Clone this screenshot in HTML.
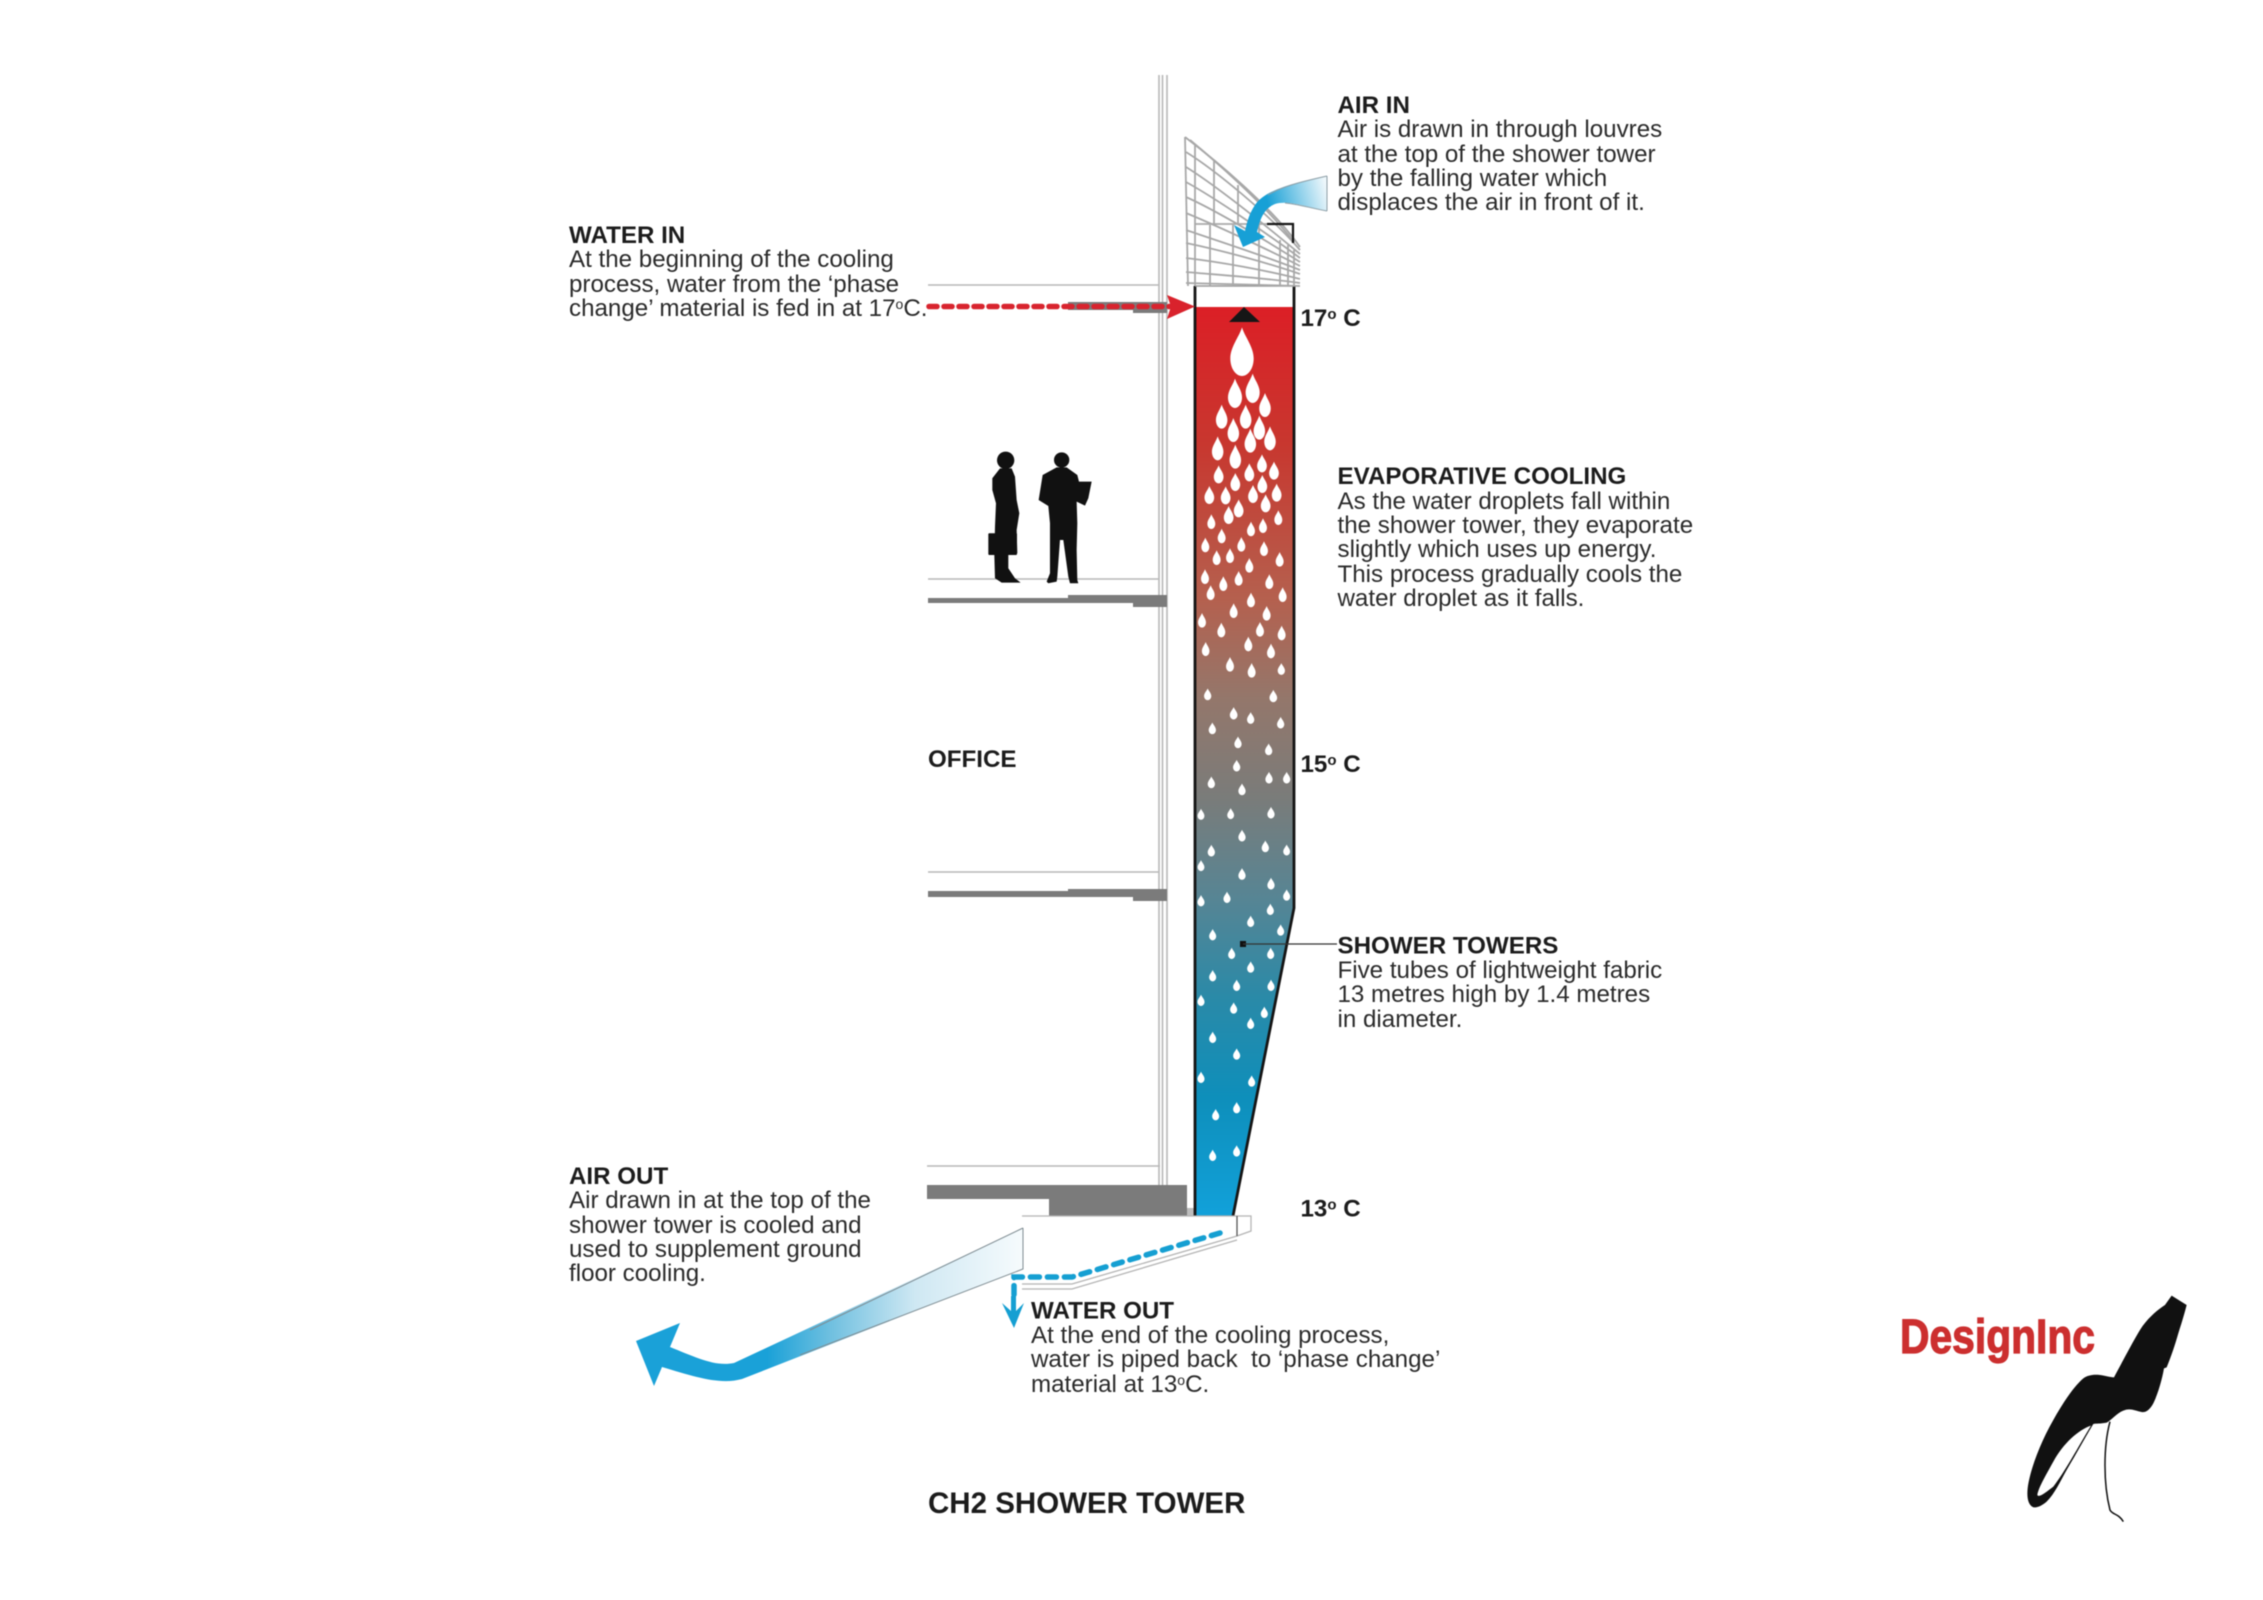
<!DOCTYPE html>
<html>
<head>
<meta charset="utf-8">
<title>CH2 Shower Tower</title>
<style>
html,body{margin:0;padding:0;background:#fff}
svg{display:block;filter:blur(.5px)}
text{font-family:"Liberation Sans",Arial,sans-serif;font-size:24.15px;fill:#2b2b2b}
.b{font-weight:bold;fill:#1c1c1c}
</style>
</head>
<body>
<svg xmlns="http://www.w3.org/2000/svg" width="2263" height="1600" viewBox="0 0 2263 1600">
<defs>
<linearGradient id="tower" gradientUnits="userSpaceOnUse" x1="0" y1="307" x2="0" y2="1216">
<stop offset="0" stop-color="#dc1f26"/>
<stop offset=".15" stop-color="#c8372f"/>
<stop offset=".32" stop-color="#b5604e"/>
<stop offset=".43" stop-color="#94776b"/>
<stop offset=".54" stop-color="#7a7c7a"/>
<stop offset=".65" stop-color="#578594"/>
<stop offset=".76" stop-color="#2a8aa8"/>
<stop offset=".87" stop-color="#0e8fbb"/>
<stop offset="1" stop-color="#12a1da"/>
</linearGradient>
<linearGradient id="airout" gradientUnits="userSpaceOnUse" x1="1023" y1="0" x2="767" y2="0">
<stop offset="0" stop-color="#f6fbfd"/>
<stop offset=".42" stop-color="#cfe8f3"/>
<stop offset=".75" stop-color="#70c0e0"/>
<stop offset="1" stop-color="#1aa1d8"/>
</linearGradient>
<linearGradient id="airin" gradientUnits="userSpaceOnUse" x1="1327" y1="190" x2="1268" y2="205">
<stop offset="0" stop-color="#eef7fb"/>
<stop offset="1" stop-color="#17a0d6"/>
</linearGradient>
<path id="d" fill="#fff" d="M0,-.5C.06,-.3 .24,-.1 .24,.14C.24,.34 .13,.5 0,.5C-.13,.5 -.24,.34 -.24,.14C-.24,-.1 -.06,-.3 0,-.5Z"/>
<path id="m" fill="#fff" d="M0,-.5C.07,-.3 .27,-.1 .27,.14C.27,.34 .15,.5 0,.5C-.15,.5 -.27,.34 -.27,.14C-.27,-.1 -.07,-.3 0,-.5Z"/>
<path id="s" fill="#fff" d="M0,-.5C.08,-.3 .31,-.1 .31,.14C.31,.34 .17,.5 0,.5C-.17,.5 -.31,.34 -.31,.14C-.31,-.1 -.08,-.3 0,-.5Z"/>
</defs>

<rect width="2263" height="1600" fill="#fff"/>

<!-- wall lines -->
<g stroke="#b8b8b8" stroke-width="1.6" fill="none">
<path d="M1159,75V1185M1162.5,75V1185M1167,75V1185"/>
<path d="M928,285H1159M928,579H1159M928,872H1159M927,1166H1160"/>
</g>

<!-- floor slabs -->
<g fill="#7b7b7b">
<path d="M1068,302H1167V313H1133V310H1068Z"/>
<path d="M928,598H1068V595H1167V607H1133V603H928Z"/>
<path d="M928,891H1068V889H1167V901H1133V897H928Z"/>
<path d="M927,1185H1187V1216H1049V1199H927Z"/>
</g>
<rect x="1187" y="1208" width="8" height="8" fill="#bdbdbd"/>

<!-- tower -->
<path d="M1195,307H1294V908L1233,1216H1195Z" fill="url(#tower)"/>
<path d="M1195,286V1216M1294,286V908L1233,1216" fill="none" stroke="#151515" stroke-width="2.8"/>
<path d="M1195,286H1294" stroke="#999" stroke-width="1.5"/>
<path d="M1244,307L1229,322H1260Z" fill="#161616"/>

<!-- droplets -->
<g transform="translate(1180,300) scale(.3333)">
<use href="#d" transform="translate(186,155) scale(146)"/>
<use href="#d" transform="translate(165,280) scale(88)"/>
<use href="#d" transform="translate(218,265) scale(88)"/>
<use href="#d" transform="translate(255,315) scale(72)"/>
<use href="#d" transform="translate(125,350) scale(72)"/>
<use href="#d" transform="translate(197,350) scale(72)"/>
<use href="#d" transform="translate(160,390) scale(72)"/>
<use href="#d" transform="translate(238,383) scale(72)"/>
<use href="#d" transform="translate(270,415) scale(72)"/>
<use href="#d" transform="translate(211,422) scale(72)"/>
<use href="#d" transform="translate(113,445) scale(72)"/>
<use href="#d" transform="translate(166,470) scale(72)"/>
<use href="#m" transform="translate(116,523) scale(54)"/>
<use href="#m" transform="translate(208,517) scale(54)"/>
<use href="#m" transform="translate(246,490) scale(54)"/>
<use href="#m" transform="translate(282,512) scale(54)"/>
<use href="#m" transform="translate(166,546) scale(54)"/>
<use href="#m" transform="translate(247,552) scale(54)"/>
<use href="#m" transform="translate(88,585) scale(54)"/>
<use href="#m" transform="translate(137,586) scale(54)"/>
<use href="#m" transform="translate(219,582) scale(54)"/>
<use href="#m" transform="translate(290,578) scale(54)"/>
<use href="#m" transform="translate(257,610) scale(54)"/>
<use href="#m" transform="translate(176,625) scale(54)"/>
<use href="#m" transform="translate(146,645) scale(54)"/>
<use href="#m" transform="translate(94,665) scale(44)"/>
<use href="#m" transform="translate(213,687) scale(44)"/>
<use href="#m" transform="translate(249,677) scale(44)"/>
<use href="#m" transform="translate(295,653) scale(44)"/>
<use href="#m" transform="translate(125,708) scale(44)"/>
<use href="#m" transform="translate(184,733) scale(44)"/>
<use href="#m" transform="translate(252,746) scale(44)"/>
<use href="#m" transform="translate(76,735) scale(44)"/>
<use href="#m" transform="translate(110,773) scale(44)"/>
<use href="#m" transform="translate(150,767) scale(44)"/>
<use href="#m" transform="translate(299,778) scale(44)"/>
<use href="#m" transform="translate(208,796) scale(44)"/>
<use href="#m" transform="translate(75,830) scale(44)"/>
<use href="#m" transform="translate(176,835) scale(44)"/>
<use href="#m" transform="translate(130,851) scale(44)"/>
<use href="#m" transform="translate(268,845) scale(44)"/>
<use href="#m" transform="translate(92,878) scale(44)"/>
<use href="#m" transform="translate(308,884) scale(44)"/>
<use href="#m" transform="translate(213,900) scale(44)"/>
<use href="#m" transform="translate(161,932) scale(44)"/>
<use href="#m" transform="translate(66,961) scale(44)"/>
<use href="#m" transform="translate(260,940) scale(44)"/>
</g>
<g transform="translate(1180,600) scale(.3333)">
<use href="#m" transform="translate(124,90) scale(44)"/>
<use href="#m" transform="translate(240,88) scale(44)"/>
<use href="#m" transform="translate(305,99) scale(44)"/>
<use href="#m" transform="translate(77,147) scale(42)"/>
<use href="#m" transform="translate(205,132) scale(44)"/>
<use href="#m" transform="translate(273,153) scale(44)"/>
<use href="#m" transform="translate(150,193) scale(44)"/>
<use href="#m" transform="translate(215,211) scale(44)"/>
<use href="#s" transform="translate(304,207) scale(35)"/>
<use href="#s" transform="translate(83,283) scale(35)"/>
<use href="#s" transform="translate(280,288) scale(37)"/>
<use href="#s" transform="translate(161,340) scale(37)"/>
<use href="#s" transform="translate(212,354) scale(35)"/>
<use href="#s" transform="translate(302,368) scale(35)"/>
<use href="#s" transform="translate(97,385) scale(35)"/>
<use href="#s" transform="translate(174,427) scale(35)"/>
<use href="#s" transform="translate(266,448) scale(35)"/>
<use href="#s" transform="translate(170,497) scale(35)"/>
<use href="#s" transform="translate(94,547) scale(35)"/>
<use href="#s" transform="translate(267,533) scale(35)"/>
<use href="#s" transform="translate(320,533) scale(35)"/>
<use href="#s" transform="translate(186,568) scale(35)"/>
<use href="#s" transform="translate(63,643) scale(33)"/>
<use href="#s" transform="translate(152,641) scale(33)"/>
<use href="#s" transform="translate(273,638) scale(35)"/>
<use href="#s" transform="translate(186,707) scale(35)"/>
<use href="#s" transform="translate(256,739) scale(35)"/>
<use href="#s" transform="translate(94,752) scale(35)"/>
<use href="#s" transform="translate(320,750) scale(33)"/>
<use href="#s" transform="translate(63,797) scale(33)"/>
<use href="#s" transform="translate(186,822) scale(35)"/>
<use href="#s" transform="translate(273,851) scale(35)"/>
</g>
<g transform="translate(1180,880) scale(.3333)">
<use href="#s" transform="translate(63,62) scale(34)"/>
<use href="#s" transform="translate(141,52) scale(34)"/>
<use href="#s" transform="translate(320,45) scale(34)"/>
<use href="#s" transform="translate(271,88) scale(34)"/>
<use href="#s" transform="translate(212,124) scale(34)"/>
<use href="#s" transform="translate(98,164) scale(34)"/>
<use href="#s" transform="translate(302,150) scale(34)"/>
<use href="#s" transform="translate(155,220) scale(34)"/>
<use href="#s" transform="translate(272,220) scale(34)"/>
<use href="#s" transform="translate(212,261) scale(34)"/>
<use href="#s" transform="translate(98,287) scale(34)"/>
<use href="#s" transform="translate(170,316) scale(34)"/>
<use href="#s" transform="translate(273,316) scale(34)"/>
<use href="#s" transform="translate(63,361) scale(34)"/>
<use href="#s" transform="translate(161,384) scale(34)"/>
<use href="#s" transform="translate(253,397) scale(34)"/>
<use href="#s" transform="translate(212,430) scale(34)"/>
<use href="#s" transform="translate(98,472) scale(34)"/>
<use href="#s" transform="translate(170,522) scale(34)"/>
<use href="#s" transform="translate(63,592) scale(34)"/>
<use href="#s" transform="translate(215,603) scale(34)"/>
<use href="#s" transform="translate(170,683) scale(34)"/>
<use href="#s" transform="translate(107,704) scale(34)"/>
<use href="#s" transform="translate(98,826) scale(34)"/>
<use href="#s" transform="translate(170,813) scale(34)"/>
</g>

<!-- leader -->
<rect x="1240" y="941" width="6" height="6" fill="#111"/>
<path d="M1243,944H1337" stroke="#333" stroke-width="1.3"/>

<!-- louvres -->
<g fill="none" stroke="#a8a8a8" stroke-width="1.8">
<path d="M1185,137C1215,160 1270,205 1300,247"/>
<path d="M1190,140C1220,165 1265,205 1294,242"/>
<path d="M1185,137L1188,286M1195,145V286M1214,160V225M1210,225V286M1238,185V225M1233,225V286M1259,222V286M1280,240V286M1288,245V286M1294,250V286"/>
<path d="M1186,152C1215,170 1270,215 1300,250"/>
<path d="M1186,167C1215,185 1265,225 1300,254"/>
<path d="M1186,182C1215,198 1265,232 1300,258"/>
<path d="M1186,197C1215,210 1265,240 1300,262"/>
<path d="M1186,213C1215,225 1265,248 1300,266"/>
<path d="M1186,230C1215,240 1265,256 1300,270"/>
<path d="M1186,243C1220,250 1265,262 1300,274"/>
<path d="M1186,258C1220,262 1265,270 1300,279"/>
<path d="M1186,272C1220,275 1265,278 1300,283"/>
<path d="M1186,283C1220,284 1265,285 1300,286"/>
<path d="M1195,224H1267"/>
</g>
<path d="M1267,224H1293V243" fill="none" stroke="#161616" stroke-width="2.2"/>

<!-- air in arrow -->
<path d="M1327,176C1293,183 1265,190 1255,205C1249,214 1247,222 1245,231L1234,225L1243,247L1265,237L1257,232C1260,220 1263,209 1275,204C1289,200 1306,207 1327,211Z" fill="url(#airin)"/>
<path d="M1327,176C1300,182 1280,187 1268,195M1327,176V211M1285,203C1298,204 1310,208 1327,211" fill="none" stroke="#8d9ea6" stroke-width="1"/>

<!-- water in -->
<path d="M929,306.5H1170" fill="none" stroke="#d8242e" stroke-width="5.5" stroke-dasharray="8 7" stroke-linecap="round"/>
<path d="M1167,295L1195,306.5L1167,319L1171,306.5Z" fill="#d9222c"/>

<!-- people -->
<g transform="translate(900,260) scale(.3333)" fill="#111">
<circle cx="317" cy="601" r="26"/>
<path d="M300,625L335,625L345,650L350,720L358,760L350,810L352,880L325,885L325,925L345,955L362,968L305,968L285,955L283,885L285,800L288,730L277,690L277,655Z"/>
<rect x="265" y="820" width="86" height="65" rx="3"/>
<circle cx="485" cy="600" r="23"/>
<path d="M470,622L500,622L532,645L537,665L575,665L565,715L555,737L530,725L532,790L530,870L532,960L535,970L510,970L505,950L490,840L480,840L472,950L470,965L445,970L440,965L450,940L450,870L450,790L445,738L416,720L428,645Z"/>
</g>

<!-- bottom pipe -->
<g fill="none" stroke="#b5b5b5" stroke-width="1.3">
<path d="M1022,1216H1251V1231L1237,1236L1072,1284H1022"/>
<path d="M1237,1240L1072,1289H1022"/>
</g>
<path d="M1237,1216V1236" stroke="#555" stroke-width="1.3"/>

<!-- water out -->
<path d="M1220,1233L1072,1277H1014V1300" fill="none" stroke="#159fd2" stroke-width="5.5" stroke-dasharray="9 8" stroke-linecap="round"/>
<path d="M1002,1303L1011,1311V1296H1016V1311L1024,1303L1014,1328Z" fill="#159fd2"/>

<!-- air out -->
<path d="M1023,1228V1269L742,1379C720,1385 695,1377 662,1367L654,1386L636,1341L680,1323L670,1347C695,1357 715,1367 734,1363Z" fill="url(#airout)"/>
<path d="M1023,1228V1269L800,1355M1023,1228L810,1330" fill="none" stroke="#7f8c92" stroke-width="1"/>

<!-- logo -->
<text x="1900" y="1353" class="b" style="font-size:48px;fill:#cc2f2f;stroke:#cc2f2f;stroke-width:1.2" textLength="195" lengthAdjust="spacingAndGlyphs">DesignInc</text>
<g transform="translate(1890,1280) scale(.3333)">
<path fill="#111" fill-rule="evenodd" d="M845,47L890,75C885,95 878,120 865,160C855,195 845,225 830,262L822,265C818,290 805,340 790,370C778,392 765,398 755,396C735,392 720,383 700,392C680,400 665,420 650,428C630,432 620,430 610,432C590,465 560,520 530,570C510,605 495,640 470,665C455,678 440,684 430,682C415,675 410,655 413,625C420,570 450,490 490,420C515,375 550,320 580,295C595,285 610,283 630,285C645,287 660,292 672,292C690,260 720,200 750,150C775,110 810,85 825,75Z M603,437C565,450 520,490 490,545C465,590 445,625 442,645C447,655 470,635 490,620C525,575 565,500 603,437Z"/>
<path d="M660,425C640,500 640,610 660,690C668,705 685,700 700,725" fill="none" stroke="#111" stroke-width="4.5"/>
</g>

<!-- text -->
<text x="1337.5" y="113" class="b">AIR IN</text>
<text x="1337.5" y="137">Air is drawn in through louvres</text>
<text x="1337.5" y="162">at the top of the shower tower</text>
<text x="1337.5" y="186">by the falling water which</text>
<text x="1337.5" y="210">displaces the air in front of it.</text>

<text x="569" y="243" class="b">WATER IN</text>
<text x="569" y="267">At the beginning of the cooling</text>
<text x="569" y="292">process, water from the ‘phase</text>
<text x="569" y="316">change’ material is fed in at 17<tspan font-size="14" dy="-7">o</tspan><tspan dy="7">C.</tspan></text>

<text x="1337.5" y="484" class="b">EVAPORATIVE COOLING</text>
<text x="1337.5" y="509">As the water droplets fall within</text>
<text x="1337.5" y="533">the shower tower, they evaporate</text>
<text x="1337.5" y="557">slightly which uses up energy.</text>
<text x="1337.5" y="582">This process gradually cools the</text>
<text x="1337.5" y="606">water droplet as it falls.</text>

<text x="1337.5" y="953.5" class="b">SHOWER TOWERS</text>
<text x="1337.5" y="978">Five tubes of lightweight fabric</text>
<text x="1337.5" y="1002">13 metres high by 1.4 metres</text>
<text x="1337.5" y="1027">in diameter.</text>

<text x="569" y="1184" class="b">AIR OUT</text>
<text x="569" y="1208">Air drawn in at the top of the</text>
<text x="569" y="1233">shower tower is cooled and</text>
<text x="569" y="1257">used to supplement ground</text>
<text x="569" y="1281">floor cooling.</text>

<text x="1031" y="1318.5" class="b">WATER OUT</text>
<text x="1031" y="1343">At the end of the cooling process,</text>
<text x="1031" y="1367">water is piped back &#160;to ‘phase change’</text>
<text x="1031" y="1392">material at 13<tspan font-size="14" dy="-7">o</tspan><tspan dy="7">C.</tspan></text>

<text x="928" y="767" class="b">OFFICE</text>
<text x="1300.5" y="326" class="b">17<tspan font-size="15" dy="-7">o</tspan><tspan dy="7"> C</tspan></text>
<text x="1300.5" y="772" class="b">15<tspan font-size="15" dy="-7">o</tspan><tspan dy="7"> C</tspan></text>
<text x="1300.5" y="1216.5" class="b">13<tspan font-size="15" dy="-7">o</tspan><tspan dy="7"> C</tspan></text>

<text x="928" y="1513" class="b" style="font-size:29.5px">CH2 SHOWER TOWER</text>
</svg>
</body>
</html>
